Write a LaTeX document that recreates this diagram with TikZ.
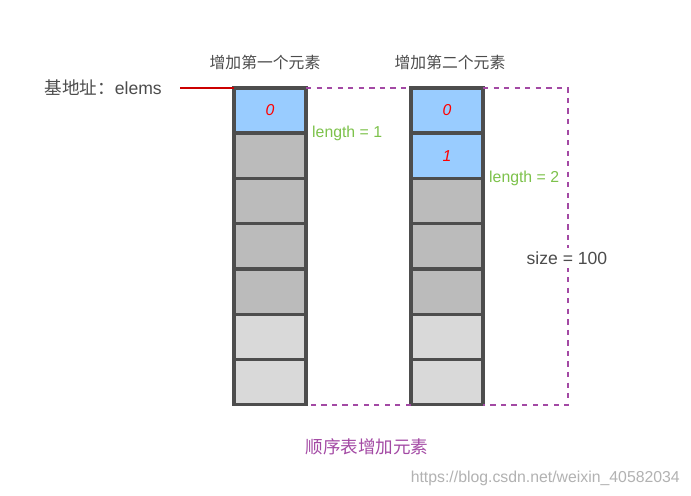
\documentclass[tikz,border=0pt]{standalone}
\usepackage{fontspec}
\setmainfont{Liberation Sans}
\newfontfamily\cjk{Noto Sans CJK SC}
\definecolor{cellblue}{HTML}{99CCFF}
\definecolor{celldark}{HTML}{BBBBBB}
\definecolor{celllight}{HTML}{D9D9D9}
\definecolor{edge}{HTML}{4D4D4D}
\definecolor{sizeline}{HTML}{A349A4}
\definecolor{lengreen}{HTML}{7DC24B}
\tikzset{
  cell/.style={draw=edge, line width=1.8pt, minimum width=72\unitlen, minimum height=45\unitlen, inner sep=0pt, anchor=north west, outer sep=0pt},
  idx/.style={text=red, font=\itshape\small},
  lenlabel/.style={text=lengreen, font=\small, anchor=west},
  sizebox/.style={sizeline, dashed, line width=0.9pt},
}
\newlength{\unitlen}
\setlength{\unitlen}{0.02cm}
\begin{document}
\begin{tikzpicture}[x=0.02cm, y=-0.02cm]
  \useasboundingbox[fill=white] (0,0) rectangle (691,495);
  % first list
  \node[cell, fill=cellblue] (a1) at (234,88) {};
  \foreach \i/\c in {2/celldark,3/celldark,4/celldark,5/celldark,6/celllight,7/celllight}
    \node[cell, fill=\c] (a\i) at (234,{88+45.3*(\i-1)}) {};
  % second list
  \node[cell, fill=cellblue] (b1) at (411,88) {};
  \node[cell, fill=cellblue] (b2) at (411,133.3) {};
  \foreach \i/\c in {3/celldark,4/celldark,5/celldark,6/celllight,7/celllight}
    \node[cell, fill=\c] (b\i) at (411,{88+45.3*(\i-1)}) {};
  \node[idx] at (a1) {0};
  \node[idx] at (b1) {0};
  \node[idx] at (b2) {1};
  \node[text=black!70, font=\small\cjk] (t1) at (265,62) {增加第一个元素};
  \node[text=black!70, font=\small\cjk] (t2) at (450,62) {增加第二个元素};
  \node[lenlabel] (l1) at (a1.south east) {length = 1};
  \node[lenlabel] (l2) at (b2.south east) {length = 2};
  % base address
  \node[text=black!70, anchor=east] (base) at (168,88) {{\cjk 基地址：}elems};
  \coordinate (redend) at (180,88);
  \draw[red!80!black, line width=1pt] (redend) -- (a1.north west);
  % size bracket
  \coordinate (ne) at (568,88);
  \coordinate (se) at (568,405);
  \draw[sizebox] (a1.north east) -- (b1.north west) (b1.north east) -- (ne) -- (se) -- (b7.south east |- se) (b7.south west |- se) -- (a7.south east |- se);
  \node[fill=white, text=black!70, inner sep=2pt] (size) at (567,258) {size = 100};
  \node[text=sizeline, font=\cjk] (cap) at (367,447) {顺序表增加元素};
  \node[text=black!30, font=\small, anchor=east] (wm) at (686,478) {https://blog.csdn.net/weixin\_40582034};
\end{tikzpicture}
\end{document}
